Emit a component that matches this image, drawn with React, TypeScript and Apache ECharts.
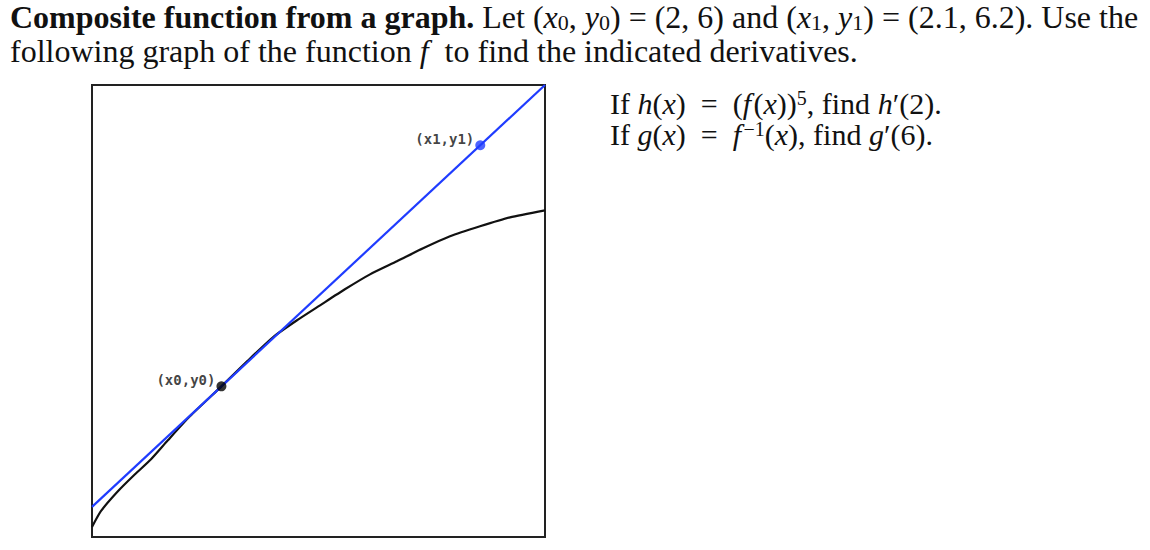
import React, { useEffect, useRef } from "react";
import * as echarts from "echarts";

// ---- data ----
const xMin = 1.95;
const xMax = 2.125;
const yMin = 5.875;
const yMax = 6.25;

const fX = [1.95, 1.9535, 1.96, 1.9666, 1.9728, 1.9793, 1.9878, 2.0, 2.0099, 2.0199, 2.0292, 2.0381, 2.0477, 2.0574, 2.0678, 2.0779, 2.0883, 2.0999, 2.1115, 2.125];
const fY = [5.8833, 5.8966, 5.9129, 5.927, 5.9395, 5.9552, 5.9751, 6.0, 6.0207, 6.0407, 6.0548, 6.0672, 6.0805, 6.0929, 6.1037, 6.1145, 6.1245, 6.1328, 6.1402, 6.146];

const tangentX = [1.95, 2.125];
const tangentY = [5.9, 6.25];

const pointNames = ["(x0,y0)", "(x1,y1)"];
const pointX = [2, 2.1];
const pointY = [6, 6.2];

const EQ = "\u2002=\u2002";
const titleLine1 =
  "{b|Composite function from a graph.} Let ({i|x}{sub|0}, {i|y}{sub|0}) = (2, 6) and ({i|x}{sub|1}, {i|y}{sub|1}) = (2.1, 6.2). Use the";
const titleLine2 = "following graph of the function {i|f}\u2002to find the indicated derivatives.";
const question1 = `If {i|h}({i|x})${EQ}({i|f\u200a}({i|x})){sup|5}, find {i|h}\u2032(2).`;
const question2 = `If {i|g}({i|x})${EQ}{i|f}\u200a{sup|\u22121}({i|x}), find {i|g}\u2032(6).`;

const BLUE = "#1f3cff";
const FONT = "Liberation Serif";
const CENTRAL = 0.3375; // central-to-alphabetic offset of the font, in em

function makeRich(fs: number, lh: number) {
  const s = Math.round(fs * 0.7);
  const sp = Math.round(fs * 0.66);
  const base = lh / 2 + CENTRAL * fs;
  const subCenter = base + 0.06 * fs - CENTRAL * s;
  const supCenter = base - 0.3 * fs - CENTRAL * sp;
  return {
    b: { fontWeight: "bold", fontSize: fs, fontFamily: FONT, lineHeight: lh, fill: "#111" },
    i: { fontStyle: "italic", fontSize: fs, fontFamily: FONT, lineHeight: lh, fill: "#111" },
    sub: {
      fontSize: s,
      fontFamily: FONT,
      lineHeight: lh,
      verticalAlign: "top",
      padding: [Math.max(0, subCenter - s / 2), 0, 0, 0],
      fill: "#111",
    },
    sup: {
      fontSize: sp,
      fontFamily: FONT,
      lineHeight: lh,
      verticalAlign: "top",
      padding: [Math.max(0, supCenter - sp / 2), 0, 0, 0],
      fill: "#111",
    },
  };
}

function textEl(text: string, x: number, y: number, fs: number, lh: number) {
  return {
    type: "text",
    x,
    y,
    style: {
      text,
      rich: makeRich(fs, lh),
      fontFamily: FONT,
      fontSize: fs,
      lineHeight: lh,
      fill: "#111",
      verticalAlign: "top",
      align: "left",
    },
  };
}

export default function App() {
  const ref = useRef<HTMLDivElement>(null);
  useEffect(() => {
    document.body.style.margin = "0";
    const chart = echarts.init(ref.current!, null, { renderer: "svg" });
    chart.setOption({
      animation: false,
      backgroundColor: "#fff",
      grid: {
        show: true,
        left: 92,
        top: 85,
        width: 453,
        height: 452,
        borderColor: "#222",
        borderWidth: 2,
        backgroundColor: "transparent",
      },
      xAxis: {
        type: "value",
        min: xMin,
        max: xMax,
        axisLine: { show: false },
        axisTick: { show: false },
        axisLabel: { show: false },
        splitLine: { show: false },
      },
      yAxis: {
        type: "value",
        min: yMin,
        max: yMax,
        axisLine: { show: false },
        axisTick: { show: false },
        axisLabel: { show: false },
        splitLine: { show: false },
      },
      series: [
        {
          type: "line",
          name: "f",
          data: fX.map((x, k) => [x, fY[k]]),
          symbol: "none",
          smooth: 0.2,
          lineStyle: { color: "#111", width: 2.2 },
          z: 2,
        },
        {
          type: "line",
          name: "tangent",
          data: tangentX.map((x, k) => [x, tangentY[k]]),
          symbol: "none",
          lineStyle: { color: BLUE, width: 2.2 },
          z: 3,
        },
        {
          type: "scatter",
          name: "points",
          symbolSize: 10,
          z: 4,
          data: pointX.map((x, k) => ({
            value: [x, pointY[k]],
            name: pointNames[k],
            itemStyle: { color: k === 0 ? "#000" : BLUE },
          })),
          label: {
            show: true,
            position: "left",
            distance: 1,
            offset: [0, -6],
            formatter: "{b}",
            fontFamily: "DejaVu Sans Mono",
            fontWeight: "bold",
            fontSize: 14,
            color: "#111",
          },
        },
      ],
      graphic: [
        textEl(titleLine1, 10, 2, 32, 30),
        textEl(titleLine2, 10, 36, 32, 30),
        textEl(question1, 610, 88, 30, 31),
        textEl(question2, 610, 119, 30, 31),
      ],
    });
    return () => chart.dispose();
  }, []);
  return <div ref={ref} style={{ width: 1150, height: 550 }} />;
}
